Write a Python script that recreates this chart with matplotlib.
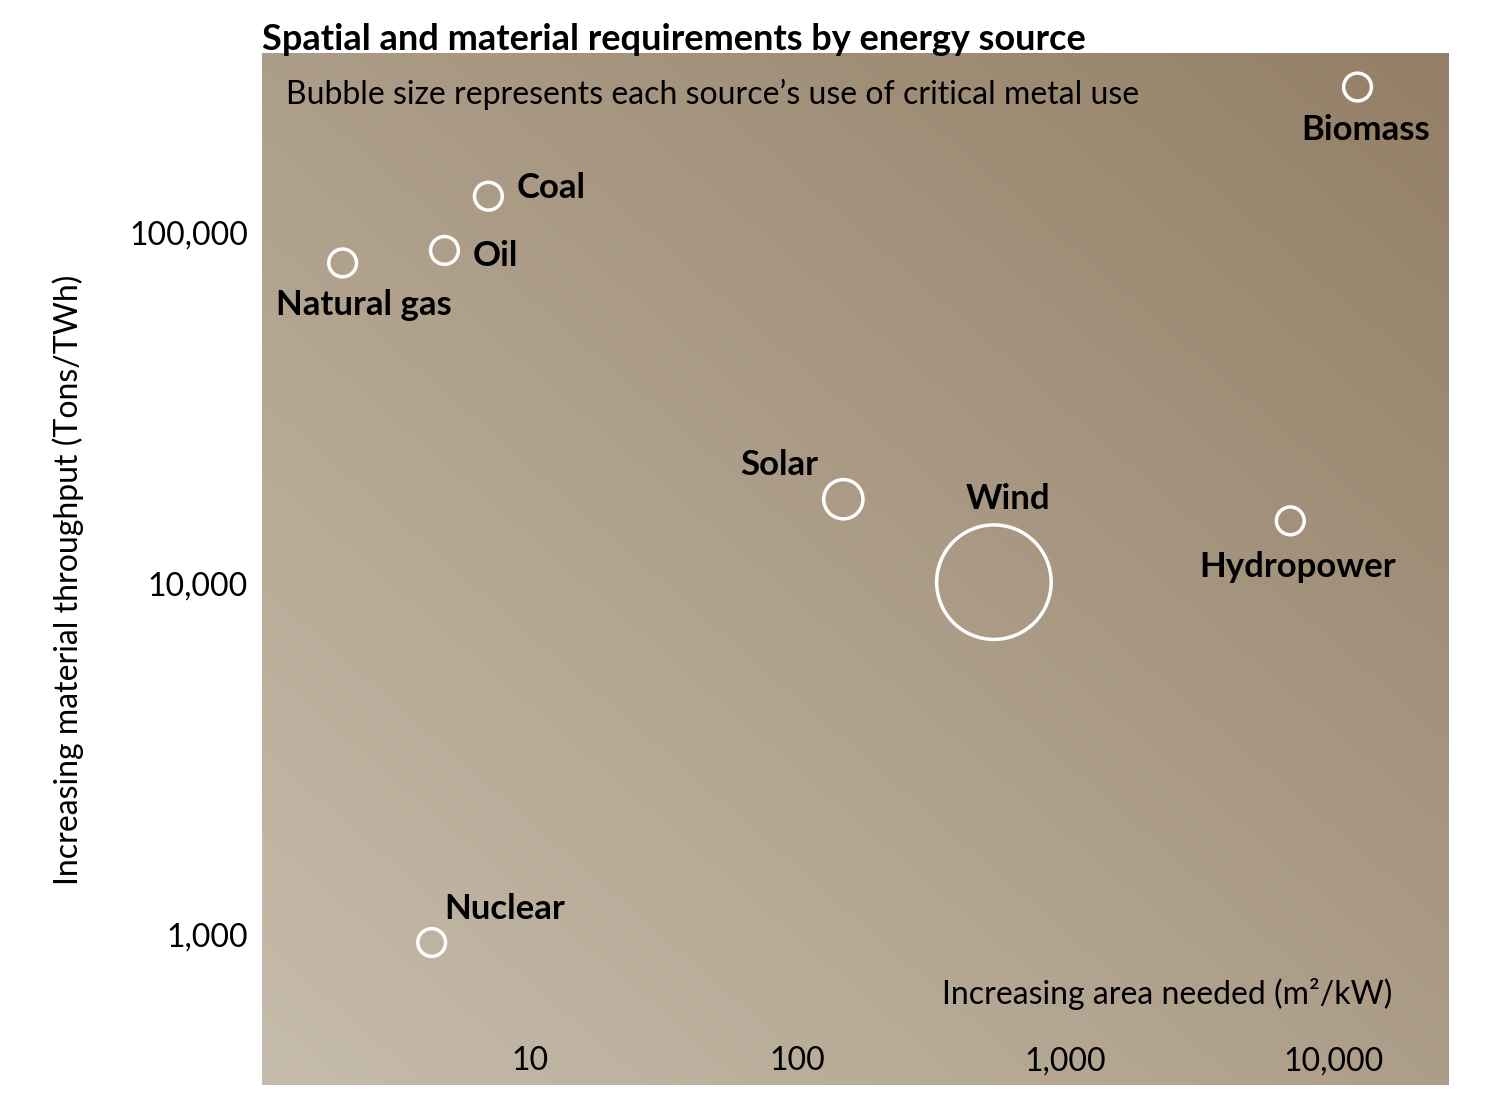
import matplotlib
matplotlib.use("Agg")
import matplotlib.pyplot as plt
import numpy as np
from matplotlib.colors import LinearSegmentedColormap

plt.rcParams['font.family'] = ['Lato', 'DejaVu Sans']

sources = ['Coal', 'Oil', 'Natural gas', 'Nuclear', 'Solar', 'Wind', 'Hydropower', 'Biomass']
area = [7.0, 4.8, 2.0, 4.3, 148, 540, 6900, 12300]
material = [127000, 89000, 82000, 950, 17400, 10100, 15100, 260000]
metal_use = [1, 1, 1, 1, 2, 17, 1, 1]

# label offsets in points (dx, dy, ha)
label_pos = {
    'Coal': (20, 6, 'left'), 'Oil': (20, -4, 'left'), 'Natural gas': (-48, -30, 'left'),
    'Nuclear': (9, 24, 'left'), 'Solar': (-18, 25, 'right'), 'Wind': (-20, 60, 'left'),
    'Hydropower': (5, -33, 'center'), 'Biomass': (6, -31, 'center'),
}

fig = plt.figure(figsize=(15, 11.15), dpi=100)
ax = fig.add_axes([262/1500, 1-1085/1115, (1449-262)/1500, (1085-53)/1115])

# diagonal gradient background
g = np.linspace(0, 1, 300)
X, Y = np.meshgrid(g, g)
cmap = LinearSegmentedColormap.from_list('bg', ['#c6bcab', '#937f66'])
ax.imshow((X + Y) / 2, cmap=cmap, origin='lower', extent=[0, 1, 0, 1],
          transform=ax.transAxes, aspect='auto', zorder=0)

ax.set_xscale('log')
ax.set_yscale('log')
ax.set_xlim(1.0, 27000)
ax.set_ylim(373, 325000)

ax.scatter(area, material, s=[400 * m for m in metal_use], facecolors='none',
           edgecolors='white', linewidths=2.5, zorder=3)
for name, x, y in zip(sources, area, material):
    dx, dy, ha = label_pos[name]
    ax.annotate(name, (x, y), xytext=(dx, dy), textcoords='offset points',
                ha=ha, va='center', fontsize=25, fontweight='bold', color='black')

for s in ax.spines.values():
    s.set_visible(False)
ax.set_xticks([10, 100, 1000, 10000])
ax.set_xticklabels(['10', '100', '1,000', '10,000'])
ax.set_yticks([1000, 10000, 100000])
ax.set_yticklabels(['1,000', '10,000', '100,000'])
ax.minorticks_off()
ax.tick_params(axis='x', length=0, pad=-28, labelsize=23)
ax.tick_params(axis='y', length=0, pad=10, labelsize=23)

ax.text(0.952, 0.088, 'Increasing area needed (m²/kW)', transform=ax.transAxes,
        ha='right', va='center', fontsize=23)
ax.text(0.02, 0.96, 'Bubble size represents each source’s use of critical metal use',
        transform=ax.transAxes, ha='left', va='center', fontsize=23)
ax.set_ylabel('Increasing material throughput (Tons/TWh)', fontsize=23)
ax.yaxis.set_label_coords(-0.15, 0.49)

fig.text(262/1500, 1-40/1115, 'Spatial and material requirements by energy source',
         fontsize=26, fontweight='bold', ha='left', va='center')

fig.savefig('out.png', dpi=100, facecolor='white')
